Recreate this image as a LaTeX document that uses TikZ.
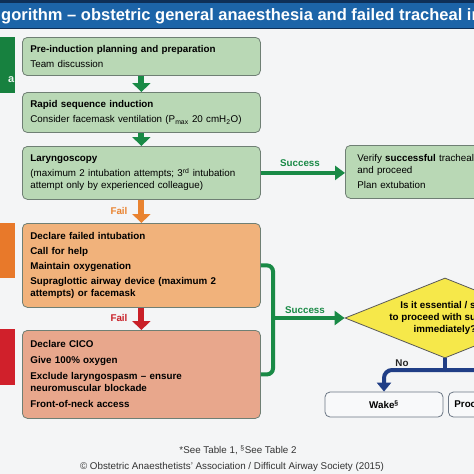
\documentclass[tikz,border=0pt]{standalone}
\usepackage{fontspec}
\setmainfont{Liberation Sans}
\usetikzlibrary{arrows.meta,shapes.geometric}

\definecolor{bgcol}{HTML}{F4F5F6}
\definecolor{titleblue}{HTML}{1C64A8}
\definecolor{titlenavy}{HTML}{0E2F57}
\definecolor{boxgreen}{HTML}{B9D8B5}
\definecolor{boxline}{HTML}{6F7F74}
\definecolor{arrgreen}{HTML}{198A46}
\definecolor{bargreen}{HTML}{17813F}
\definecolor{barorange}{HTML}{E8792A}
\definecolor{boxorange}{HTML}{F1B27B}
\definecolor{arrorange}{HTML}{E98330}
\definecolor{barred}{HTML}{D0202B}
\definecolor{boxred}{HTML}{E8A78C}
\definecolor{arrred}{HTML}{C92028}
\definecolor{decyellow}{HTML}{F6E84A}
\definecolor{arrblue}{HTML}{203E86}
\definecolor{endbox}{HTML}{F8F9FA}
\definecolor{endline}{HTML}{6B7684}
\definecolor{foottext}{HTML}{333333}

\newcommand{\bodysize}{\fontsize{9.8}{12}\selectfont}

\begin{document}
\begin{tikzpicture}[x=1pt,y=-1pt,font=\bodysize]
  \tikzstyle{stepbox} = [draw=boxline, line width=0.8pt, rounded corners=5pt,
    text width=222pt, inner sep=8pt, align=left, anchor=north west]
  \tikzstyle{fatarrow} = [line width=6pt, -{Triangle[width=18pt,length=9pt]}]
  \tikzstyle{gline} = [arrgreen, line width=4pt]
  \tikzstyle{bline} = [arrblue, line width=4pt]
  \tikzstyle{boldlabel} = [font=\bfseries\bodysize]
  \tikzstyle{endstep} = [draw=endline, fill=endbox, line width=0.8pt,
    rounded corners=5pt, minimum height=25pt, font=\bfseries\bodysize]

  \useasboundingbox (0,0) rectangle (474,474);
  \fill[bgcol] (0,0) rectangle (474,474);

  % title bar
  \fill[titleblue] (0,0) rectangle (474,29);
  \fill[titlenavy] (0,0) rectangle (474,3);
  \draw[titlenavy, line width=1pt] (0,28.5) -- (474,28.5);
  \node[anchor=base west, inner sep=0pt, text=white,
    font=\bfseries\fontsize{16.5}{19}\selectfont] (title) at (1,20)
    {\llap{Al}gorithm – obstetric general anaesthesia and failed tracheal intubation};

  % side bars
  \fill[bargreen] (0,37) rectangle (15,93);
  \fill[barorange] (0,223) rectangle (15,278);
  \fill[barred] (0,329) rectangle (15,385);
  \node[anchor=base east, inner sep=0pt, text=white!90!bargreen,
    font=\bfseries\fontsize{11}{12}\selectfont] (barA) at (14.5,82) {a};

  % main column
  \node[stepbox, fill=boxgreen, minimum height=38pt] (b1) at (22,37)
    {\textbf{Pre-induction planning and preparation}\\[3pt] Team discussion};
  \node[stepbox, fill=boxgreen, minimum height=38pt] (b2) at (22,92)
    {\textbf{Rapid sequence induction}\\[3pt]
     Consider facemask ventilation (P\textsubscript{max} 20 cmH\textsubscript{2}O)};
  \node[stepbox, fill=boxgreen, minimum height=53pt] (b3) at (22,146)
    {\textbf{Laryngoscopy}\\[3pt]
     (maximum 2 intubation attempts; 3\textsuperscript{rd} intubation\\
     attempt only by experienced colleague)};
  \node[stepbox, fill=boxorange, minimum height=84pt, font=\bfseries\bodysize] (b4) at (22,223)
    {Declare failed intubation\\[3pt]
     Call for help\\[3pt]
     Maintain oxygenation\\[3pt]
     Supraglottic airway device (maximum 2\\
     attempts) or facemask};
  \node[stepbox, fill=boxred, minimum height=88pt, font=\bfseries\bodysize] (b5) at (22,330)
    {Declare CICO\\[4pt]
     Give 100\% oxygen\\[4pt]
     Exclude laryngospasm – ensure\\
     neuromuscular blockade\\[4pt]
     Front-of-neck access};

  \draw[fatarrow, arrgreen] (b1) -- (b2);
  \draw[fatarrow, arrgreen] (b2) -- (b3);
  \draw[fatarrow, arrorange] (b3) -- (b4);
  \draw[fatarrow, arrred] (b4) -- (b5);
  \node[boldlabel, text=arrorange] (fail1) at (119,211) {Fail};
  \node[boldlabel, text=arrred] (fail2) at (119,318) {Fail};

  % success after laryngoscopy
  \node[draw=boxline, fill=boxgreen, line width=0.8pt, rounded corners=5pt,
    anchor=north west, text width=180pt, inner sep=0pt, inner xsep=12pt,
    minimum height=53pt, align=left] (verify) at (345,145)
    {Verify \textbf{successful} tracheal intubation\\
     and proceed\\[3pt]
     Plan extubation};
  \draw[gline, -{Triangle[width=14pt,length=10pt]}] (b3.east) -- (verify.west |- b3.east);
  \node[boldlabel, text=arrgreen] (succ1) at (300,163) {Success};

  % brace to decision
  \node[diamond, draw=black!65, fill=decyellow, line width=0.8pt, aspect=2.5,
    minimum width=200pt, minimum height=80pt, inner sep=0pt, align=center,
    font=\bfseries\bodysize] (dia) at (445,318)
    {Is it essential / safe\\to proceed with surgery\\immediately?};
  \coordinate (brk) at (273,318);
  \draw[gline, rounded corners=6pt] (b4.east) -| (brk) |- (b5.east);
  \draw[gline, -{Triangle[width=14pt,length=10pt]}] (brk) -- (dia.west);
  \node[boldlabel, text=arrgreen] (succ2) at (305,310) {Success};

  % outcomes
  \node[endstep, minimum width=118pt] (wake) at (384,404.5) {Wake\textsuperscript{\S}};
  \node[endstep, minimum width=118pt, text width=112pt, inner xsep=3pt, align=left,
    anchor=west] (proc) at (448,404.5) {\hspace*{3pt}Proceed with surgery*};
  \coordinate (nosplit) at (445,370);
  \draw[bline] (dia.south) -- (nosplit);
  \draw[bline, rounded corners=8pt, -{Triangle[width=14pt,length=9pt]}] (nosplit) -| (wake.north);
  \draw[bline, rounded corners=8pt, -{Triangle[width=14pt,length=9pt]}] (nosplit) -| (proc.north);
  \node[boldlabel, text=black!85] (no) at (402,363) {No};

  % footer
  \node[text=foottext] (foot1) at (238,450) {*See Table 1, \textsuperscript{\S}See Table 2};
  \node[text=foottext] (foot2) at (232,467)
    {© Obstetric Anaesthetists’ Association / Difficult Airway Society (2015)};
\end{tikzpicture}
\end{document}
